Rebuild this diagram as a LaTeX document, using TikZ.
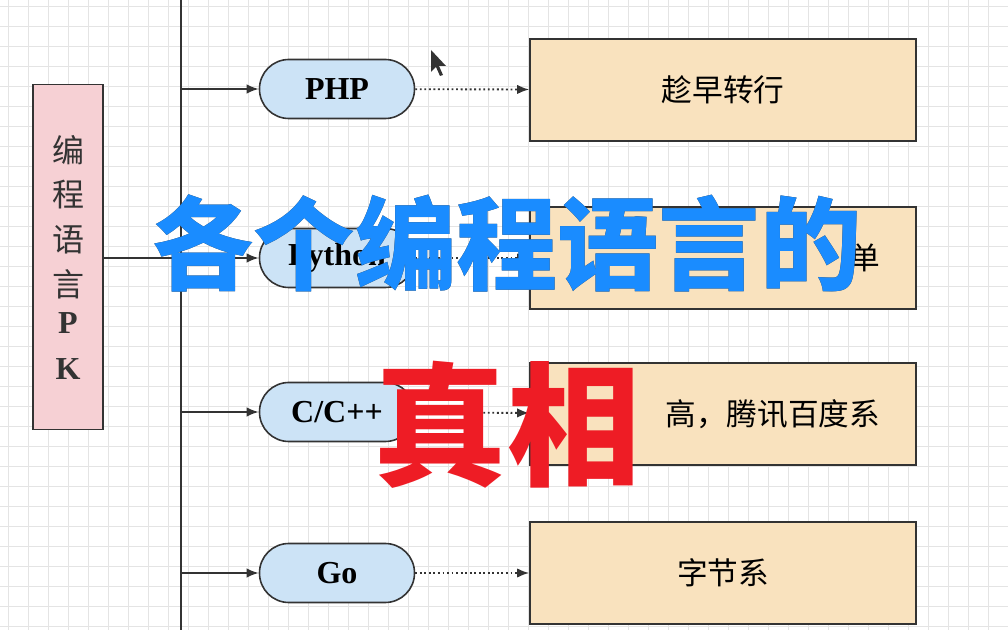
\documentclass[tikz,border=0pt]{standalone}
\usepackage{fontspec}
\setmainfont{Liberation Serif}
\newfontfamily\cjk{Noto Sans CJK SC}
\usepackage[outline]{contour}
\contourlength{2.5pt}
\usetikzlibrary{arrows.meta}
\definecolor{gridc}{HTML}{E4E4E4}
\definecolor{pinkf}{HTML}{F6D0D4}
\definecolor{bluef}{HTML}{CCE3F6}
\definecolor{tanf}{HTML}{F9E2BE}
\definecolor{bigblue}{HTML}{1A8CFF}
\definecolor{bigred}{HTML}{EE1C25}
\definecolor{edge}{HTML}{333333}
\tikzset{
  lang/.style={draw=edge, line width=1.2pt, fill=bluef, rounded corners=22pt, minimum width=155\px, minimum height=59\px, font=\fontsize{24}{28}\selectfont\bfseries, inner sep=0pt},
  res/.style={draw=edge, line width=1.2pt, fill=tanf, minimum width=386\px, minimum height=102\px, font=\cjk\fontsize{23}{28}\selectfont, inner sep=0pt},
  solidarr/.style={draw=edge, line width=1.2pt, -{Latex[length=9pt,width=7pt]}},
  dotarr/.style={draw=edge, line width=1.4pt, dotted, -{Latex[length=9pt,width=7pt]}},
}
\newlength{\px}\setlength{\px}{0.75pt}
\begin{document}
\begin{tikzpicture}[x=0.75pt,y=-0.75pt]
\useasboundingbox (0,0) rectangle (1008,630);
\fill[white] (0,0) rectangle (1008,630);
\foreach \i in {0,20,...,1000} \draw[gridc, line width=0.6pt] (\i+8,0) -- (\i+8,630);
\foreach \j in {0,20,...,620} \draw[gridc, line width=0.6pt] (0,\j+6) -- (1008,\j+6);
% spine
\coordinate (top) at (181,0);
\coordinate (bot) at (181,630);
\draw[edge, line width=1.4pt] (top) -- (bot);
% pink box
\node[draw=edge, line width=1.2pt, fill=pinkf, minimum width=70\px, minimum height=345\px, inner sep=0pt] (pk) at (68,257) {};
\foreach \c/\y in {编/150,程/195,语/240,言/284} \node[font=\cjk\fontsize{24}{28}\selectfont, text=edge] at (68,\y) {\c};
\node[font=\fontsize{24}{28}\selectfont\bfseries, text=edge] at (68,323) {P};
\node[font=\fontsize{24}{28}\selectfont\bfseries, text=edge] at (68,369) {K};
% language nodes
\node[lang] (php) at (337,89) {PHP};
\node[lang] (py) at (337,258) {Python};
\node[lang] (cpp) at (337,412) {C/C++};
\node[lang] (go) at (337,573) {Go};
% result boxes
\node[res] (r1) at (723,90) {趁早转行};
\node[res] (r2) at (723,258) {};
\node[anchor=east, font=\cjk\fontsize{23}{28}\selectfont] at (885,258) {单};
\node[res] (r3) at (723,414) {};
\node[anchor=east, font=\cjk\fontsize{23}{28}\selectfont] at (885,414) {高，腾讯百度系};
\node[res] (r4) at (723,573) {字节系};
% branches
\coordinate (b1) at (181,89);
\coordinate (b3) at (181,412);
\coordinate (b4) at (181,573);
\draw[solidarr] (b1) -- (php);
\draw[solidarr] (pk.east |- py) -- (py);
\draw[solidarr] (b3) -- (cpp);
\draw[solidarr] (b4) -- (go);
\draw[dotarr] (php) -- (r1);
\draw[dotarr] (py) -- (r2);
\draw[dotarr] (cpp) -- (r3);
\draw[dotarr] (go) -- (r4);
% cursor
\fill[black!80] (431,50) -- (431,72) -- (436,67) -- (440,76) -- (443,75) -- (439,66) -- (446,66) -- cycle;
% overlay titles
\node[font=\cjk\bfseries\fontsize{76}{80}\selectfont, text=bigblue] (t1) at (507,243) {\contour{edge}{各个编程语言的}};
\node[font=\cjk\bfseries\fontsize{100}{104}\selectfont, text=bigred] (t2) at (507,425) {真相};
\end{tikzpicture}
\end{document}
